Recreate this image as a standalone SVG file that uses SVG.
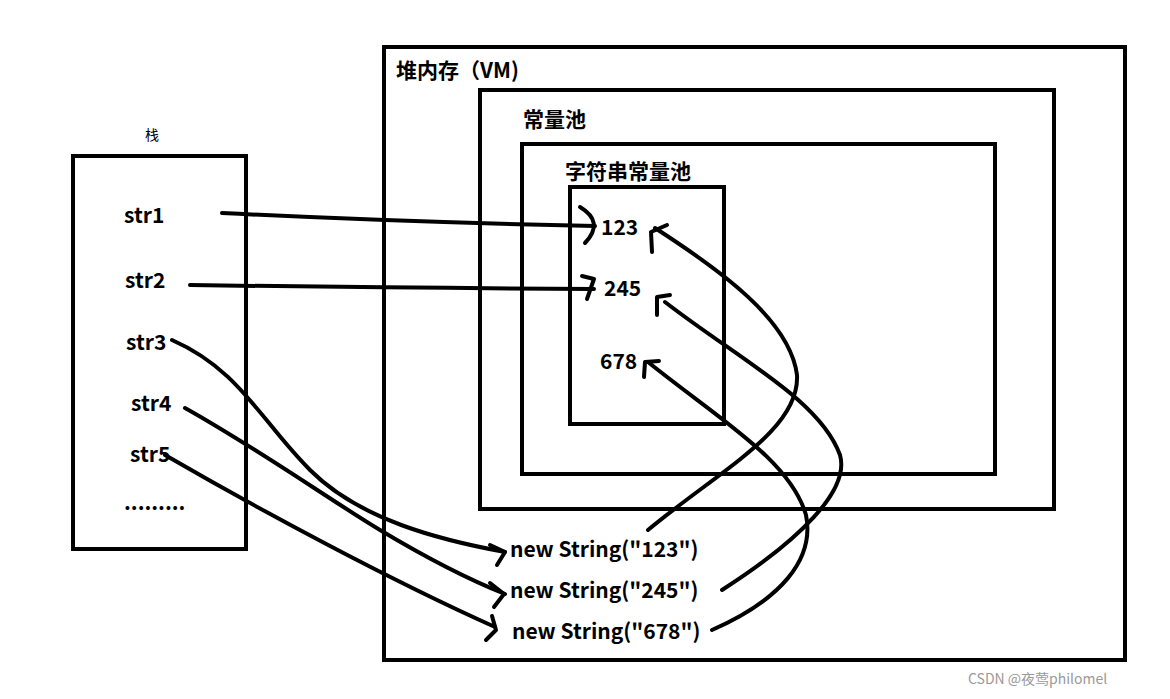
<svg xmlns="http://www.w3.org/2000/svg" width="1170" height="699" viewBox="0 0 1170 699">
<style>
.b{fill:none;stroke:#000;stroke-width:4}
.c{fill:none;stroke:#000;stroke-width:4;stroke-linecap:round;stroke-linejoin:round}
.t{font-family:"Microsoft YaHei","Noto Sans CJK SC","Liberation Sans",sans-serif;font-weight:bold;font-size:21px;fill:#000}
</style>
<rect width="1170" height="699" fill="#fff"/>
<g id="stack"><rect class="b" x="73" y="156" width="173" height="393"/>
<text x="145" y="140" font-family="Noto Sans CJK SC,sans-serif" font-size="14">栈</text>
<text class="t" x="124" y="223">str1</text><text class="t" x="125" y="288">str2</text><text class="t" x="126" y="350">str3</text><text class="t" x="131" y="411">str4</text><text class="t" x="130" y="462">str5</text><text class="t" x="124" y="510">.........</text></g>
<g id="heap"><rect class="b" x="384" y="47" width="741" height="613"/><text class="t" x="396" y="78">堆内存（VM)</text></g>
<g id="cpool"><rect class="b" x="480" y="90" width="574" height="419"/><text class="t" x="523" y="127">常量池</text></g>
<g id="spool"><rect class="b" x="522" y="144" width="473" height="330"/><text class="t" x="565" y="179">字符串常量池</text></g>
<g id="inner"><rect class="b" x="570" y="187" width="154" height="237"/>
<text class="t" x="601" y="235">123</text><text class="t" x="604" y="296">245</text><text class="t" x="600" y="369">678</text></g>
<g id="objs"><text class="t" x="510" y="557">new String("123")</text><text class="t" x="510" y="598">new String("245")</text><text class="t" x="512" y="639">new String("678")</text></g>
<g id="connectors">
<path class="c" d="M222,213 Q400,222 595,226"/><path class="c" d="M580,207 Q605,222 585,243"/>
<path class="c" d="M190,285 Q400,288 594,289"/><path class="c" d="M582,276 L594,279 L587,299"/>
<path class="c" d="M172,340 C240,370 260,420 310,470 C360,520 440,540 505,552"/><path class="c" d="M490,545 L505,552 L497,565"/>
<path class="c" d="M185,408 C260,450 330,500 380,530 C430,560 470,580 505,594"/><path class="c" d="M490,583 L504,594 L494,607"/>
<path class="c" d="M165,455 C260,510 390,580 495,627"/><path class="c" d="M492,616 L496,630 L486,640"/>
<path class="c" d="M648,530 C720,470 800,430 797,375 C790,320 720,270 655,228"/><path class="c" d="M652,252 L651,232 L667,225"/>
<path class="c" d="M722,590 C800,540 850,490 840,455 C820,400 740,360 665,302"/><path class="c" d="M657,315 L657,297 L670,295"/>
<path class="c" d="M712,630 C780,600 815,560 806,515 C790,460 720,420 648,362"/><path class="c" d="M644,377 L645,362 L659,361"/>
</g>
<text x="968" y="684" font-family="Noto Sans CJK SC,sans-serif" font-size="14" fill="#999">CSDN @夜莺philomel</text>
</svg>
